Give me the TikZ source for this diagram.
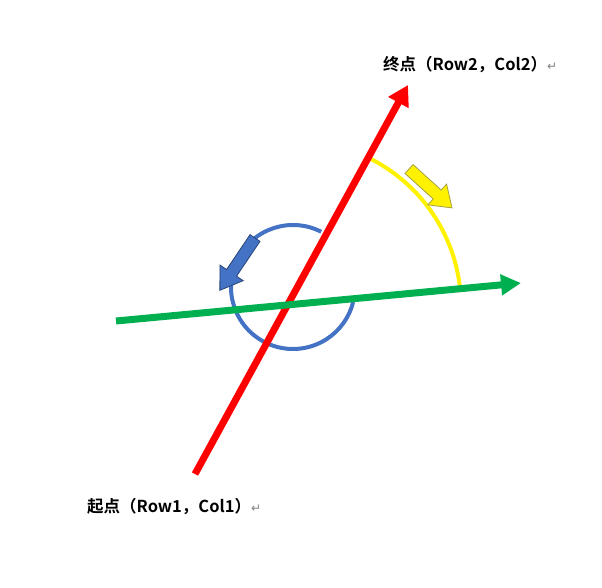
\documentclass[tikz,border=0pt]{standalone}
\usepackage{fontspec}
\newfontfamily\cjk{Noto Sans CJK SC}[BoldFont={* Bold}]
\newfontfamily\dv{DejaVu Sans}
\usetikzlibrary{arrows.meta}
\definecolor{bblue}{RGB}{68,114,196}
\definecolor{ggreen}{RGB}{0,176,80}
\begin{document}
\begin{tikzpicture}[x=1pt,y=-1pt,
  lbl/.style={font=\cjk\bfseries\fontsize{16.5pt}{19pt}\selectfont, anchor=west, inner sep=0},
  blk/.style={draw=#1!60!black, fill=#1, line width=0.8pt, line join=miter}]
\useasboundingbox (0,0) rectangle (602,587);
\coordinate (r1) at (195,474);
\coordinate (r2) at (408,85);
\coordinate (g1) at (116,321);
\coordinate (g2) at (521,283);
\coordinate (bc) at (293,287);
\coordinate (yc) at (296,306);
\draw[bblue, line width=4pt] ([shift={(-63:62)}]bc) arc[start angle=-63, end angle=-346, radius=62];
\draw[yellow, line width=4pt] ([shift={(-64.2:165)}]yc) arc[start angle=-64.2, end angle=-7.3, radius=165];
\draw[red, line width=7pt, -{Triangle[length=20pt,width=22pt]}] (r1) -- (r2);
\draw[ggreen, line width=7pt, -{Triangle[length=20pt,width=20pt]}] (g1) -- (g2);
\begin{scope}[shift={(255,238)}, rotate=-123.9]
\draw[blk=bblue] (0,-6) -- (42,-6) -- (42,-14) -- (63,0) -- (42,14) -- (42,6) -- (0,6) -- cycle;
\end{scope}
\begin{scope}[shift={(409,169)}, rotate=-42.1]
\draw[blk=yellow] (0,-6) -- (38,-6) -- (38,-14) -- (58,0) -- (38,14) -- (38,6) -- (0,6) -- cycle;
\end{scope}
\node[lbl] (t1) at (383,65) {终点（Row2，Col2）{\dv\mdseries\color{gray}\fontsize{12pt}{14pt}\selectfont ↵}};
\node[lbl] (t2) at (87,507) {起点（Row1，Col1）{\dv\mdseries\color{gray}\fontsize{12pt}{14pt}\selectfont ↵}};
\end{tikzpicture}
\end{document}
